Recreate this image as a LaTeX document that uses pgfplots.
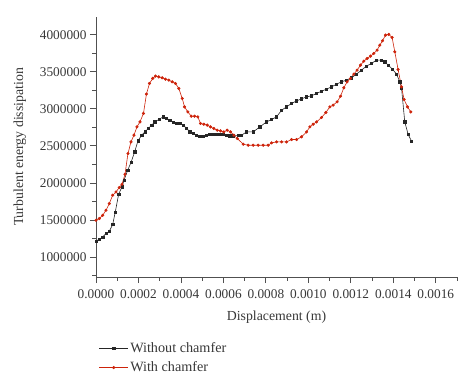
\documentclass[border=0pt]{standalone}
\usepackage{pgfplots}
\pgfplotsset{compat=1.18}
\usepackage{fontspec}
\setmainfont{Liberation Serif}
\definecolor{txt}{RGB}{55,55,55}
\definecolor{redc}{RGB}{205,35,10}
\definecolor{axc}{RGB}{80,80,80}
\begin{document}
\begin{tikzpicture}
\path[use as bounding box] (-96pt,-112pt) rectangle (378pt,277pt);
\begin{axis}[
  at={(0pt,0pt)}, anchor=origin,
  width=361pt, height=260pt, scale only axis,
  xmin=0, xmax=0.0017, ymin=730000, ymax=4240000,
  axis x line=bottom, axis y line=left, axis line style={-, axc, line width=0.8pt},
  tick align=outside, tick style={axc, line width=0.8pt},
  major tick length=6pt, minor tick length=3.5pt,
  xtick={0,0.0002,0.0004,0.0006,0.0008,0.001,0.0012,0.0014,0.0016},
  minor xtick={0.0001,0.0003,0.0005,0.0007,0.0009,0.0011,0.0013,0.0015,0.0017},
  ytick={1000000,1500000,2000000,2500000,3000000,3500000,4000000},
  minor ytick={750000,1250000,1750000,2250000,2750000,3250000,3750000,4250000},
  scaled x ticks=false, scaled y ticks=false,
  xticklabel style={yshift=-3pt, /pgf/number format/fixed, /pgf/number format/fixed zerofill, /pgf/number format/precision=4, /pgf/number format/assume math mode=true},
  yticklabel style={/pgf/number format/fixed, /pgf/number format/1000 sep={}, /pgf/number format/assume math mode=true},
  ticklabel style={font=\fontsize{13.3}{15}\selectfont, text=txt},
  label style={font=\fontsize{13.8}{16}\selectfont, text=txt},
  xlabel={Displacement (m)},
  ylabel={Turbulent energy dissipation},
  xlabel style={yshift=-5pt},
  ylabel style={yshift=7pt},
  legend style={at={(0.0,-0.235)}, anchor=north west, draw=none, fill=none,
    font=\fontsize{14.2}{16}\selectfont, text=txt, row sep=4pt},
  legend cell align=left,
  legend image code/.code={\draw[mark repeat=2,mark phase=2,#1] plot coordinates {(0cm,0cm)(0.5cm,0cm)(1cm,0cm)};},
]
\addplot[black!85, line width=0.6pt, mark=square*, mark size=1.15pt] coordinates {
(0,1216000)(0.0000155,1239000)(0.0000315,1270000)(0.000047,1316000)(0.0000626,1347000)
(0.0000786,1438000)(0.0000908,1608000)(0.0001068,1850000)(0.0001224,1946000)(0.0001318,2036000)
(0.0001492,2172000)(0.0001647,2276000)(0.0001821,2419000)(0.0001976,2568000)(0.0002151,2645000)
(0.0002306,2689000)(0.0002461,2735000)(0.0002621,2780000)(0.0002776,2824000)(0.0002979,2861000)
(0.0003167,2892000)(0.0003327,2870000)(0.0003482,2847000)(0.0003638,2816000)(0.0003798,2803000)
(0.0003953,2803000)(0.0004108,2780000)(0.0004268,2735000)(0.0004424,2689000)(0.0004579,2668000)
(0.0004739,2645000)(0.0004894,2631000)(0.0005049,2631000)(0.0005209,2645000)(0.0005365,2654000)
(0.0005520,2658000)(0.0005680,2658000)(0.0005835,2658000)(0.0005991,2658000)(0.0006151,2640000)
(0.0006306,2635000)(0.0006461,2635000)(0.0006696,2640000)(0.0006856,2645000)(0.0007092,2689000)
(0.0007402,2689000)(0.0007718,2757000)(0.0008033,2824000)(0.0008268,2857000)(0.0008504,2892000)
(0.0008739,2982000)(0.0008974,3027000)(0.0009209,3073000)(0.0009445,3108000)(0.0009680,3135000)
(0.0009915,3162000)(0.0010150,3176000)(0.0010390,3208000)(0.0010620,3239000)(0.0010860,3266000)
(0.0011090,3297000)(0.0011330,3333000)(0.0011560,3365000)(0.0011800,3388000)(0.0012030,3419000)
(0.0012270,3469000)(0.0012500,3523000)(0.0012740,3577000)(0.0012970,3613000)(0.0013210,3658000)
(0.0013440,3658000)(0.0013600,3635000)(0.0013760,3590000)(0.0013960,3536000)(0.0014150,3469000)
(0.0014310,3365000)(0.0014390,3275000)(0.0014540,2824000)(0.0014700,2654000)(0.0014860,2564000)
};
\addlegendentry{Without chamfer}
\addplot[redc, line width=0.6pt, mark=*, mark size=1.25pt] coordinates {
(0,1496000)(0.0000155,1519000)(0.0000315,1563000)(0.000047,1631000)(0.0000626,1721000)
(0.0000786,1834000)(0.0000941,1878000)(0.0001096,1938000)(0.0001224,1982000)(0.0001365,2117000)
(0.0001506,2397000)(0.0001647,2554000)(0.0001788,2645000)(0.0001929,2757000)(0.0002071,2824000)
(0.0002235,2938000)(0.0002376,3200000)(0.0002518,3343000)(0.0002673,3411000)(0.0002800,3442000)
(0.0002955,3432000)(0.0003115,3419000)(0.0003271,3401000)(0.0003431,3388000)(0.0003586,3365000)
(0.0003741,3343000)(0.0003901,3275000)(0.0004061,3140000)(0.0004169,3027000)(0.0004325,2959000)
(0.0004485,2901000)(0.0004640,2901000)(0.0004795,2892000)(0.0004922,2803000)(0.0005078,2793000)
(0.0005238,2780000)(0.0005393,2757000)(0.0005548,2735000)(0.0005708,2712000)(0.0005864,2703000)
(0.0006019,2689000)(0.0006179,2712000)(0.0006334,2689000)(0.0006494,2645000)(0.0006654,2600000)
(0.0006932,2523000)(0.0007167,2509000)(0.0007402,2509000)(0.0007638,2509000)(0.0007873,2509000)
(0.0008108,2509000)(0.0008268,2541000)(0.0008504,2554000)(0.0008739,2554000)(0.0008974,2554000)
(0.0009209,2586000)(0.0009445,2586000)(0.0009680,2622000)(0.0009915,2689000)(0.0010071,2757000)
(0.0010226,2793000)(0.0010386,2824000)(0.0010621,2883000)(0.0010824,2951000)(0.0011012,3027000)
(0.0011167,3050000)(0.0011355,3095000)(0.0011515,3171000)(0.0011671,3284000)(0.0011826,3365000)
(0.0011986,3411000)(0.0012141,3469000)(0.0012296,3523000)(0.0012456,3590000)(0.0012612,3644000)
(0.0012767,3680000)(0.0012927,3712000)(0.0013082,3748000)(0.0013238,3793000)(0.0013365,3860000)
(0.0013492,3919000)(0.0013633,3995000)(0.0013788,4005000)(0.0013944,3964000)(0.0014071,3770000)
(0.0014226,3532000)(0.0014386,3297000)(0.0014508,3127000)(0.0014668,3027000)(0.0014824,2959000)
};
\addlegendentry{With chamfer}
\end{axis}
\end{tikzpicture}
\end{document}
